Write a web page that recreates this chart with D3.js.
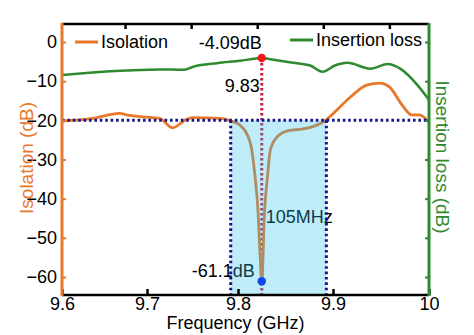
<!DOCTYPE html>
<html>
<head>
<meta charset="utf-8">
<script src="https://cdn.jsdelivr.net/npm/d3@7"></script>
<style>
  body { margin: 0; background: #fff; }
  svg { font-family: Arial, "Liberation Sans", sans-serif; }
</style>
</head>
<body>
<svg width="474" height="335"></svg>
<script>
// isolation curve (GHz, dB)
const iso_f = [9.600, 9.636, 9.668, 9.676, 9.695, 9.714, 9.728, 9.744, 9.751, 9.780,
    9.795, 9.802, 9.813, 9.818, 9.821, 9.823, 9.825, 9.828, 9.831, 9.834,
    9.841, 9.852, 9.873, 9.889, 9.892, 9.918, 9.935, 9.949, 9.959, 9.972,
    9.982, 9.990, 10.0]
const iso_db = [-20.2, -19.5, -18.2, -18.6, -19.1, -19.5, -21.9, -19.7, -19.3, -19.5,
    -20.4, -21.2, -25.8, -34.5, -42.9, -53.1, -61.1, -42.9, -34.5, -27.6,
    -24.3, -22.7, -22.0, -20.5, -20.0, -14.1, -11.0, -10.5, -11.5, -16.1,
    -18.6, -18.6, -20.5]

// insertion loss curve (GHz, dB)
const il_f = [9.600, 9.636, 9.676, 9.714, 9.740, 9.751, 9.777, 9.802, 9.825, 9.834,
    9.858, 9.876, 9.889, 9.902, 9.915, 9.939, 9.957, 9.970, 9.988, 10.0]
const il_db = [-8.4, -7.8, -7.3, -7.0, -7.1, -6.3, -5.4, -4.8, -4.09, -4.4,
    -5.3, -6.0, -7.6, -6.0, -5.3, -6.8, -5.6, -6.8, -11.0, -14.8]

const freq_ticks = [9.6, 9.7, 9.8, 9.9, 10],
    db_ticks = [-60, -50, -40, -30, -20, -10, 0],
    top_ticks = [1, 2, 3, 4, 5]

// markers
const peak = { f: 9.825, il: -4.09, iso: -61.1 },
    band = [9.792, 9.893],
    threshold = -20

const orange = '#e8782c',
    green = '#2f8a2f',
    navy = '#14148c',
    crimson = '#c81e3c'

const svg = d3.select('svg')

const x = d3.scaleLinear()
    .domain([9.6, 9.7, 9.8, 9.9, 10])
    .range([62, 147, 238, 333, 429]),
    y = d3.scaleLinear()
    .domain([-64.6, 4.6])
    .range([295, 24]),
    xTop = d3.scaleLinear()
    .domain([0, 5.6])
    .range([59, 429])

const [x0, x1] = [x(9.6), x(10)],
    [y0, y1] = y.range()

const line = d3.line()
    .x((d) => x(d[0]))
    .y((d) => y(d[1]))

// insertion loss
svg.append('path')
    .datum(d3.zip(il_f, il_db))
    .attr('d', line.curve(d3.curveMonotoneX))
    .style('fill', 'none')
    .style('stroke', green)
    .style('stroke-width', 2.5)

// red dotted marker line
svg.append('line')
    .attr('x1', x(peak.f)).attr('x2', x(peak.f))
    .attr('y1', y(peak.il)).attr('y2', y0)
    .style('stroke', crimson)
    .style('stroke-width', 3)
    .style('stroke-dasharray', '2.5,2.5')

// isolation
svg.append('path')
    .datum(d3.zip(iso_f, iso_db))
    .attr('d', line.curve(d3.curveMonotoneX))
    .style('fill', 'none')
    .style('stroke', orange)
    .style('stroke-width', 2.8)

// annotations
const ann = svg.append('g').style('font-size', '18px')
ann.append('text').attr('x', x(peak.f)).attr('y', y(peak.il) - 9)
    .attr('text-anchor', 'end').text('-4.09dB')
ann.append('text').attr('x', x(peak.f) - 2).attr('y', 92)
    .attr('text-anchor', 'end').text('9.83')
ann.append('text').attr('x', x(peak.f) + 4).attr('y', 223)
    .text('105MHz')
ann.append('text').attr('x', x(peak.f) - 7).attr('y', y(peak.iso) - 4)
    .attr('text-anchor', 'end').text('-61.1dB')

// bandwidth shading (translucent, on top)
svg.append('rect')
    .attr('x', x(band[0]))
    .attr('y', y(threshold))
    .attr('width', x(band[1]) - x(band[0]))
    .attr('height', y0 - y(threshold))
    .style('fill', 'rgb(39,192,232)')
    .style('opacity', 0.3)

// blue dotted lines
const dotted = (sel) => sel
    .style('stroke', navy)
    .style('stroke-width', 3)
    .style('stroke-dasharray', '2.6,2.8')
svg.append('line')
    .attr('x1', x0).attr('x2', x1)
    .attr('y1', y(threshold)).attr('y2', y(threshold))
    .call(dotted)
svg.selectAll('.bandline')
    .data(band)
    .enter().append('line')
    .attr('x1', (d) => x(d)).attr('x2', (d) => x(d))
    .attr('y1', y(threshold)).attr('y2', y0)
    .call(dotted)

// dots
svg.append('circle')
    .attr('cx', x(peak.f)).attr('cy', y(peak.il)).attr('r', 4.2)
    .style('fill', '#f01818')
svg.append('circle')
    .attr('cx', x(peak.f)).attr('cy', y(peak.iso)).attr('r', 4.2)
    .style('fill', '#1446e6')

// axes
const axBottom = svg.append('g')
    .attr('transform', 'translate(0,' + y0 + ')')
    .call(d3.axisBottom(x).tickValues(freq_ticks).tickSize(-6).tickPadding(2)
        .tickFormat(d3.format('')))
axBottom.selectAll('text').style('font-size', '18px').style('fill', '#000')
axBottom.selectAll('line').style('stroke', '#000').style('stroke-width', 2.5)
axBottom.select('.domain').remove()

const axTop = svg.append('g')
    .attr('transform', 'translate(0,' + y1 + ')')
    .call(d3.axisTop(xTop).tickValues(top_ticks).tickSize(-5).tickFormat(''))
axTop.selectAll('line').style('stroke', '#000').style('stroke-width', 2.5)
axTop.select('.domain').remove()

const axLeft = svg.append('g')
    .attr('transform', 'translate(' + x0 + ',0)')
    .call(d3.axisLeft(y).tickValues(db_ticks).tickSize(-4).tickPadding(5))
axLeft.selectAll('text').style('font-size', '18px').style('fill', '#000')
axLeft.selectAll('line').style('stroke', orange).style('stroke-width', 2)
axLeft.select('.domain').remove()

const axRight = svg.append('g')
    .attr('transform', 'translate(' + x1 + ',0)')
    .call(d3.axisRight(y).tickValues(db_ticks).tickSize(-4).tickFormat(''))
axRight.selectAll('line').style('stroke', green).style('stroke-width', 2)
axRight.select('.domain').remove()

svg.selectAll('.tick text').attr('font-family', null)

// frame
svg.append('line').attr('x1', x0).attr('x2', x1).attr('y1', y1).attr('y2', y1)
    .style('stroke', '#000').style('stroke-width', 2.5)
svg.append('line').attr('x1', x0).attr('x2', x1).attr('y1', y0).attr('y2', y0)
    .style('stroke', '#000').style('stroke-width', 2.5)
svg.append('line').attr('x1', x0).attr('x2', x0).attr('y1', y1 - 1).attr('y2', y0 + 1)
    .style('stroke', orange).style('stroke-width', 3)
svg.append('line').attr('x1', x1).attr('x2', x1).attr('y1', y1 - 1).attr('y2', y0 + 1)
    .style('stroke', green).style('stroke-width', 3)

// axis titles
svg.append('text')
    .attr('transform', 'translate(' + ((x0 + x1) / 2 - 10) + ',329)')
    .attr('text-anchor', 'middle')
    .style('font-size', '18px')
    .text('Frequency (GHz)')
svg.append('text')
    .attr('transform', 'translate(33,158)rotate(-90)')
    .attr('text-anchor', 'middle')
    .style('font-size', '19px')
    .style('fill', orange)
    .text('Isolation (dB)')
svg.append('text')
    .attr('transform', 'translate(436,157)rotate(90)')
    .attr('text-anchor', 'middle')
    .style('font-size', '19px')
    .style('fill', green)
    .text('Insertion loss (dB)')

// legend
const legend = [
    { name: 'Isolation', color: orange, x: 75, y: 42 },
    { name: 'Insertion loss', color: green, x: 290, y: 40 }
]
const lg = svg.selectAll('.legend')
    .data(legend)
    .enter().append('g')
    .attr('transform', (d) => 'translate(' + d.x + ',' + d.y + ')')
lg.append('line')
    .attr('x1', 0).attr('x2', 23)
    .style('stroke', (d) => d.color)
    .style('stroke-width', 3)
lg.append('text')
    .attr('x', 26).attr('y', 6)
    .style('font-size', '18px')
    .text((d) => d.name)
</script>
</body>
</html>
